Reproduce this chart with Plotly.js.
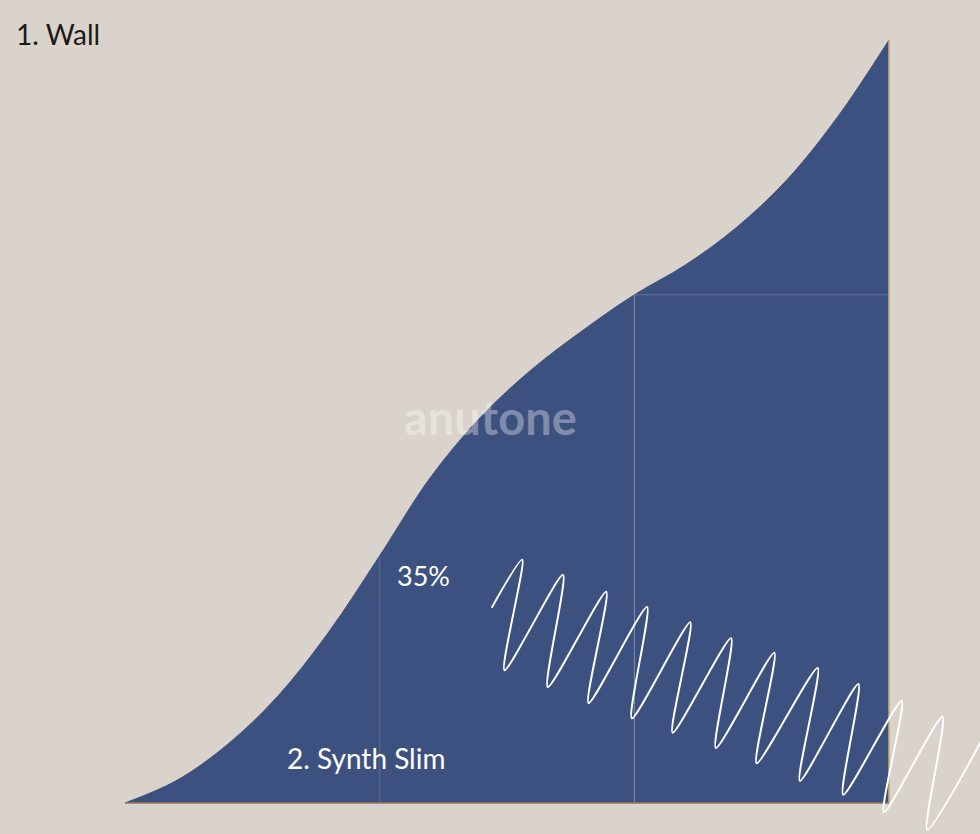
<!DOCTYPE html>
<html>
<head>
<meta charset="utf-8">
<script src="https://cdn.plot.ly/plotly-3.0.1.min.js"></script>
<style>
  html, body { margin: 0; padding: 0; background: #d9d3cb; }
  #chart { width: 980px; height: 834px; }
</style>
</head>
<body>
<div id="chart"></div>
<script>
// Category positions and values at the drop lines
var categories = [0, 1, 2, 3];
var categoryValues = [0, 32.4, 66.6, 100];

// Curve outline (x in category units, y in percent)
var curveX = [0, 0.2, 0.4, 0.6, 0.8, 1.0, 1.2, 1.4, 1.6, 1.8, 2.0, 2.2, 2.4, 2.6, 2.8, 3.0];
var curveY = [0, 2.9, 7.6, 14.0, 22.4, 32.4, 42.7, 50.7, 56.9, 62.0, 66.6, 70.5, 75.4, 81.7, 90.0, 100];

// Decorative white squiggle (peaks and valleys)
var squiggleX = [1.44, 1.56, 1.49, 1.72, 1.66, 1.89, 1.82, 2.05, 1.99, 2.22, 2.15, 2.38, 2.32, 2.55, 2.48, 2.72, 2.65, 2.88, 2.82, 3.05, 2.98, 3.21, 3.15, 3.38];
var squiggleY = [25.6, 31.9, 17.4, 29.9, 15.2, 27.7, 13.1, 25.7, 11.1, 23.7, 9.2, 21.6, 7.2, 19.7, 5.2, 17.7, 2.9, 15.6, 1.1, 13.4, -1.2, 11.3, -3.5, 9.2];

var labels = {
  wall: "1. Wall",
  pct: "35%",
  synth: "2. Synth Slim",
  mark: "anutone"
};

var blue = "#3d5180";
var bg = "#d9d3cb";

var traces = [
  {
    x: curveX, y: curveY, type: "scatter", mode: "lines",
    fill: "tozeroy", fillcolor: blue,
    line: {color: blue, width: 1, shape: "spline", smoothing: 1},
    hoverinfo: "skip", showlegend: false
  },
  {
    x: [categories[1], categories[1]], y: [categoryValues[1], 0],
    type: "scatter", mode: "lines",
    line: {color: "rgba(120,130,150,0.5)", width: 1},
    hoverinfo: "skip", showlegend: false
  },
  {
    x: [categories[2], categories[2]], y: [categoryValues[2], 0],
    type: "scatter", mode: "lines",
    line: {color: "rgba(190,195,205,0.55)", width: 1},
    hoverinfo: "skip", showlegend: false
  },
  {
    x: [categories[2], categories[3]], y: [categoryValues[2], categoryValues[2]],
    type: "scatter", mode: "lines",
    line: {color: "rgba(190,195,205,0.3)", width: 1},
    hoverinfo: "skip", showlegend: false
  },
  {
    x: [categories[3], categories[3]], y: [categoryValues[3], 0],
    type: "scatter", mode: "lines",
    line: {color: "#cdae70", width: 1.5},
    hoverinfo: "skip", showlegend: false
  },
  {
    x: [categories[0], categories[3]], y: [0, 0],
    type: "scatter", mode: "lines",
    line: {color: "#9c7556", width: 1.5},
    hoverinfo: "skip", showlegend: false
  },
  {
    x: squiggleX, y: squiggleY, type: "scatter", mode: "lines",
    line: {color: "#ffffff", width: 2, shape: "spline", smoothing: 0.7},
    hoverinfo: "skip", showlegend: false
  }
];

var W = 980, H = 834;
function px(v) { return v / W; }
function py(v) { return 1 - v / H; }

var layout = {
  width: W, height: H,
  margin: {l: 0, r: 0, t: 0, b: 0, pad: 0},
  paper_bgcolor: bg, plot_bgcolor: bg,
  xaxis: {range: [-0.4908, 3.3573], visible: false, fixedrange: true},
  yaxis: {range: [-4.063, 105.24], visible: false, fixedrange: true},
  showlegend: false,
  annotations: [
    {text: labels.wall, xref: "paper", yref: "paper", x: px(14), y: py(34),
     xanchor: "left", yanchor: "middle", showarrow: false,
     font: {family: "Lato, sans-serif", size: 28, color: "#1a1a1a"}},
    {text: labels.pct, xref: "paper", yref: "paper", x: px(395), y: py(575),
     xanchor: "left", yanchor: "middle", showarrow: false,
     font: {family: "Lato, sans-serif", size: 27, color: "#ffffff"}},
    {text: labels.synth, xref: "paper", yref: "paper", x: px(285), y: py(758),
     xanchor: "left", yanchor: "middle", showarrow: false,
     font: {family: "Lato, sans-serif", size: 28, color: "#ffffff"}},
    {text: labels.mark, xref: "paper", yref: "paper", x: px(490), y: py(417),
     xanchor: "center", yanchor: "middle", showarrow: false,
     font: {family: "Lato, sans-serif", size: 47, weight: 700, color: "rgba(255,255,255,0.36)"}}
  ]
};

Plotly.newPlot("chart", traces, layout, {staticPlot: true, displayModeBar: false});
</script>
</body>
</html>
